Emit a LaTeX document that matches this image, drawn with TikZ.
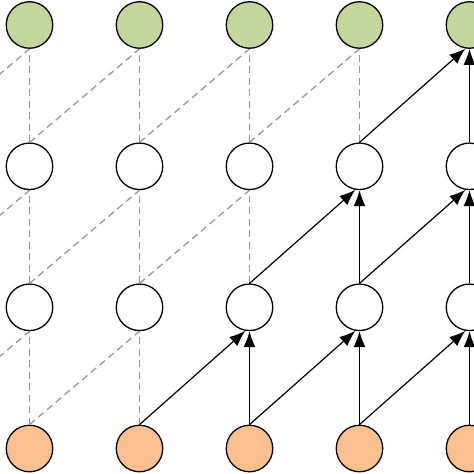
\documentclass[tikz,border=0pt]{standalone}
\usetikzlibrary{arrows.meta}
\definecolor{topgreen}{HTML}{C3D69B}
\definecolor{inorange}{HTML}{FAC090}
\definecolor{dashgray}{HTML}{999999}
\tikzset{
  unit/.style={circle,draw=black,line width=1.3pt,minimum size=46.5pt,inner sep=0pt},
  outunit/.style={unit,fill=topgreen},
  inunit/.style={unit,fill=inorange},
  hidunit/.style={unit,fill=white},
  ghost/.style={draw=dashgray,line width=1.3pt,dash pattern=on 7pt off 4.5pt},
  flow/.style={draw=black,line width=1.2pt,arrows={-Latex[length=16pt,width=12pt]}}
}
\begin{document}
\begin{tikzpicture}[x=1pt,y=-1pt]
\useasboundingbox (0,0) rectangle (474,474);
\clip (0,0) rectangle (474,474);
% nodes
\foreach \c/\x in {0/29.5,1/139.5,2/249.5,3/359.5,4/469.5}{
  \node[outunit] (n-\c-0) at (\x,25) {};
  \node[hidunit] (n-\c-1) at (\x,166.3) {};
  \node[hidunit] (n-\c-2) at (\x,307.3) {};
  \node[inunit]  (n-\c-3) at (\x,448.5) {};
}
% left, off-picture starting points
\coordinate (l-1) at (-80.5,142.3);
\coordinate (l-2) at (-80.5,283.3);
\coordinate (l-3) at (-80.5,424.5);
% dashed connections
\foreach \c/\a/\b in {0/3/2,0/2/1,0/1/0,1/3/2,1/2/1,1/1/0,2/2/1,2/1/0,3/1/0}{
  \draw[ghost] (n-\c-\a.north) -- (n-\c-\b.south);
}
\foreach \c/\d/\a/\b in {0/1/3/2,0/1/2/1,1/2/2/1,0/1/1/0,1/2/1/0,2/3/1/0}{
  \draw[ghost] (n-\c-\a.north) -- (n-\d-\b.south);
}
\foreach \a/\b in {3/2,2/1,1/0}{
  \draw[ghost] (l-\a) -- (n-0-\b.south);
}
% solid arrows
\foreach \c/\a/\b in {4/1/0,3/2/1,4/2/1,2/3/2,3/3/2,4/3/2}{
  \draw[flow] (n-\c-\a.north) -- (n-\c-\b.south);
}
\foreach \c/\d/\a/\b in {3/4/1/0,2/3/2/1,3/4/2/1,1/2/3/2,2/3/3/2,3/4/3/2}{
  \draw[flow] (n-\c-\a.north) -- (n-\d-\b.-100);
}
\end{tikzpicture}
\end{document}
